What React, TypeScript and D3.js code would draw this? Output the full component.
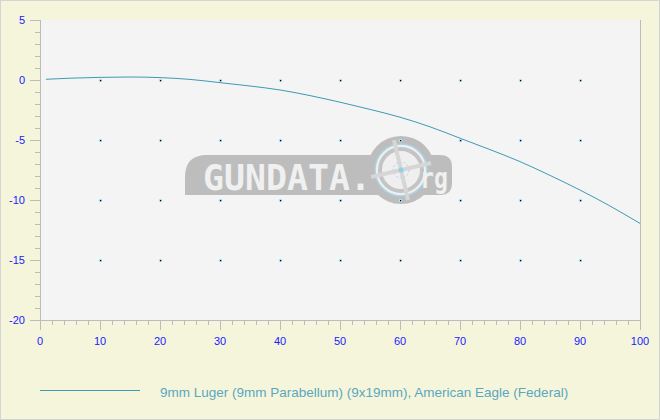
import React from "react";
import * as d3 from "d3";

const rangesX: number[] = [1, 5, 10, 15, 20, 25, 30, 35, 40, 45, 50, 55, 60, 65, 70, 75, 80, 85, 90, 95, 100];
const dropValues: number[] = [0.06, 0.15, 0.22, 0.25, 0.2, 0.05, -0.22, -0.5, -0.83, -1.3, -1.85, -2.45, -3.1, -3.9, -4.85, -5.8, -6.8, -7.95, -9.17, -10.5, -11.95];
const xTickValues: number[] = [0, 10, 20, 30, 40, 50, 60, 70, 80, 90, 100];
const yTickValues: number[] = [5, 0, -5, -10, -15, -20];
const seriesName = "9mm Luger (9mm Parabellum) (9x19mm), American Eagle (Federal)";

const W = 660, H = 420;
const L = 40, R = 640, T = 20, B = 320;

export default function App() {
  const x = d3.scaleLinear().domain([0, 100]).range([L, R]);
  const y = d3.scaleLinear().domain([-20, 5]).range([B, T]);
  const line = d3.line<number>().x((_, i) => x(rangesX[i])).y((d) => y(d)).curve(d3.curveMonotoneX);

  const xMinor = d3.range(0, 101, 2);
  const yMinor = d3.range(-20, 6, 1);
  const dotsX = d3.range(10, 100, 10);
  const dotsY = [0, -5, -10, -15];
  const axisColor = "#bcbcbc";
  const lineColor = "#3d9bb3";
  const labelColor = "#1a1aff";

  return (
    <svg width={W} height={H} style={{ position: "absolute", left: 0, top: 0, display: "block" }}
      fontFamily="'Liberation Sans', Arial, sans-serif">
      <rect x={0.5} y={0.5} width={W - 1} height={H - 1} fill="#f5f5dc" stroke="#d4d4d4" />
      <rect x={L} y={T} width={R - L} height={B - T} fill="#f4f4f4" />
      {/* watermark */}
      <g>
        <path d={`M185,195 L185,177 Q185,155 207,155 L440,155 Q452,155 452,167 L452,183 Q452,195 440,195 Z`} fill="#bdbdbd" />
        <circle cx={401} cy={170} r={34} fill="#bdbdbd" />
        <circle cx={401} cy={170} r={26} fill="#efefef" stroke="#a8d4e6" strokeWidth={1.5} />
        <circle cx={401} cy={170} r={21} fill="none" stroke="#c4c4c4" strokeWidth={4} />
        <circle cx={401} cy={170} r={8} fill="none" stroke="#a8d4e6" strokeWidth={1} strokeDasharray="2 2" />
        <line x1={394} y1={140} x2={408} y2={200} stroke="#d6d6d6" strokeWidth={4} />
        <line x1={371} y1={177} x2={431} y2={163} stroke="#d6d6d6" strokeWidth={4} />
        <circle cx={401} cy={170} r={2.5} fill="#8fd0ea" />
        <text x={203} y={190} fontFamily="'DejaVu Sans Mono', monospace" fontWeight="bold" fontSize={36}
          fill="#f0f0f0" textLength={168} lengthAdjust="spacingAndGlyphs">GUNDATA.</text>
        <text x={420} y={188} fontFamily="'DejaVu Sans Mono', monospace" fontWeight="bold" fontSize={28}
          fill="#f0f0f0" textLength={28} lengthAdjust="spacingAndGlyphs">rg</text>
      </g>
      {/* grid dots */}
      {dotsX.map((dx) => dotsY.map((dy) => (
        <g key={`${dx}_${dy}`}>
          <circle cx={x(dx) + 0.5} cy={y(dy) + 0.5} r={1.8} fill="#b5dcef" />
          <rect x={x(dx)} y={y(dy)} width={1.2} height={1.2} fill="#000" />
        </g>
      )))}
      {/* axes */}
      <line x1={L + 0.5} y1={T} x2={L + 0.5} y2={B} stroke={axisColor} />
      <line x1={L} y1={B + 0.5} x2={R} y2={B + 0.5} stroke={axisColor} />
      <line x1={R + 0.5} y1={T} x2={R + 0.5} y2={B} stroke={axisColor} />
      {yMinor.map((v) => (
        <line key={`ym${v}`} x1={v % 5 === 0 ? L - 10 : L - 5} x2={L} y1={Math.round(y(v)) + 0.5} y2={Math.round(y(v)) + 0.5} stroke={axisColor} />
      ))}
      {xMinor.map((v) => (
        <line key={`xm${v}`} x1={Math.round(x(v)) + 0.5} x2={Math.round(x(v)) + 0.5} y1={B} y2={v % 10 === 0 ? B + 10 : B + 5} stroke={axisColor} />
      ))}
      {yTickValues.map((v) => (
        <text key={`yl${v}`} x={25} y={y(v) + 4} textAnchor="end" fontSize={11} fill={labelColor}>{v}</text>
      ))}
      {xTickValues.map((v) => (
        <text key={`xl${v}`} x={x(v)} y={345} textAnchor="middle" fontSize={11} fill={labelColor}>{v}</text>
      ))}
      <path d={line(dropValues) || ""} fill="none" stroke={lineColor} strokeWidth={1} />
      {/* legend */}
      <line x1={40} x2={140} y1={390.5} y2={390.5} stroke={lineColor} />
      <text x={160} y={397} fontSize={13.5} fill="#5aa7bf">{seriesName}</text>
    </svg>
  );
}
